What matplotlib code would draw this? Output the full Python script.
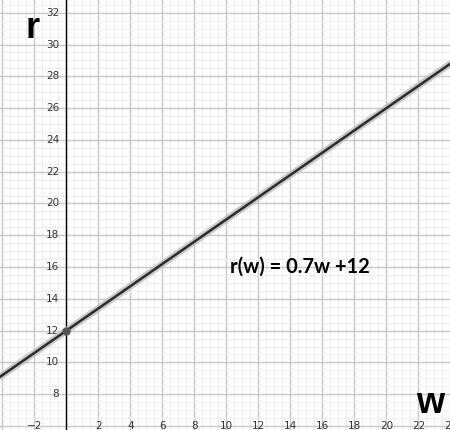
import matplotlib
matplotlib.use("Agg")
import matplotlib.pyplot as plt
from matplotlib.ticker import MultipleLocator

# data
line_w = [-5, 0, 10, 25]
line_r = [8.5, 12, 19, 29.5]
point_w = [0]
point_r = [12]
x_ticks = [-2, 2, 4, 6, 8, 10, 12, 14, 16, 18, 20, 22, 24]
y_ticks = [8, 10, 12, 14, 16, 18, 20, 22, 24, 26, 28, 30, 32]
equation = "r(w) = 0.7w +12"

fig = plt.figure(figsize=(4.5, 4.3), dpi=100)
ax = fig.add_axes([0, 0, 1, 1])
xmin, xmax = -4.15, 23.97
ymin, ymax = 5.75, 32.8
ax.set_xlim(xmin, xmax)
ax.set_ylim(ymin, ymax)

# grid
ax.xaxis.set_major_locator(MultipleLocator(2))
ax.yaxis.set_major_locator(MultipleLocator(2))
ax.xaxis.set_minor_locator(MultipleLocator(0.5))
ax.yaxis.set_minor_locator(MultipleLocator(0.5))
ax.grid(which="minor", color="#eeeeee", linewidth=0.8)
ax.grid(which="major", color="#c8c8c8", linewidth=1.0)
ax.set_axisbelow(True)
ax.tick_params(which="both", length=0, labelbottom=False, labelleft=False)
for s in ax.spines.values():
    s.set_visible(False)

# y axis line
ax.axvline(0, color="black", linewidth=1.0, zorder=2)

# tick labels
for t in y_ticks:
    ax.text(-0.45, t, str(t), ha="right", va="center", fontsize=7.5,
            color="#333333", family="DejaVu Sans", zorder=3)
for t in x_ticks:
    lab = str(t).replace("-", "\u2212")
    ax.text(t, ymin + 0.28, lab, ha="center", va="center", fontsize=7.5,
            color="#333333", family="DejaVu Sans", zorder=3)

# line with halo
ax.plot(line_w, line_r, color="#bdbdbd", linewidth=5, alpha=0.8, zorder=4,
        solid_capstyle="butt")
ax.plot(line_w, line_r, color="#2b2b2b", linewidth=1.8, zorder=5)
ax.plot(point_w, point_r, "o", color="#555555", markersize=5, zorder=6)

# labels
ax.text(-2.09, 30.4, "r", fontsize=26, fontweight="bold", family="Liberation Sans",
        ha="center", va="baseline", color="black", zorder=7)
ax.text(22.7, 6.83, "w", fontsize=26, fontweight="bold", family="Liberation Sans",
        ha="center", va="baseline", color="black", zorder=7)
ax.text(10.2, 16.0, equation, fontsize=14.5, fontweight="bold", family="Lato",
        ha="left", va="center", color="black", zorder=7)

fig.savefig("out.png", dpi=100)
